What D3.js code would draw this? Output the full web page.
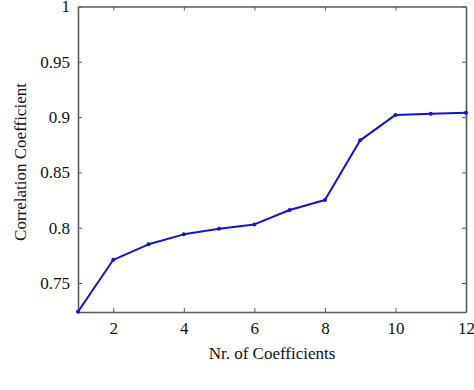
<!DOCTYPE html>
<html>
<head>
<meta charset="utf-8">
<script src="https://cdn.jsdelivr.net/npm/d3@7"></script>
</head>
<body style="margin:0;padding:0;background:#fff">
<div id="chart"></div>
<script>
// data
const coeffCounts = [1, 2, 3, 4, 5, 6, 7, 8, 9, 10, 11, 12];
const correlation = [0.724, 0.771, 0.785, 0.794, 0.799, 0.803, 0.816, 0.825, 0.879, 0.902, 0.903, 0.904];
const xTicks = [2, 4, 6, 8, 10, 12];
const yTicks = [0.75, 0.8, 0.85, 0.9, 0.95, 1];

const width = 474, height = 390;
const margin = {top: 6.5, right: 8, bottom: 78, left: 78};
const fontName = "Liberation Serif";

const svg = d3.select("#chart").append("svg")
    .attr("width", width)
    .attr("height", height)
    .style("display", "block");

const x = d3.scaleLinear()
    .domain([1, 12])
    .range([margin.left, width - margin.right]);

const y = d3.scaleLinear()
    .domain([0.7238, 1])
    .range([height - margin.bottom, margin.top]);

const frameColor = "#5a5a5a";

// bottom axis, ticks inside
svg.append("g")
    .attr("class", "axis")
    .attr("transform", `translate(0,${y.range()[0]})`)
    .call(d3.axisBottom(x).tickValues(xTicks).tickSize(-4).tickPadding(10).tickSizeOuter(0));

// top axis, ticks only
svg.append("g")
    .attr("class", "axis")
    .attr("transform", `translate(0,${y.range()[1]})`)
    .call(d3.axisTop(x).tickValues(xTicks).tickSize(-4).tickFormat("").tickSizeOuter(0));

// left axis
svg.append("g")
    .attr("class", "axis")
    .attr("transform", `translate(${x.range()[0]},0)`)
    .call(d3.axisLeft(y).tickValues(yTicks).tickSize(-4).tickPadding(8).tickSizeOuter(0)
        .tickFormat(d => String(+d.toFixed(2))));

// right axis, ticks only
svg.append("g")
    .attr("class", "axis")
    .attr("transform", `translate(${x.range()[1]},0)`)
    .call(d3.axisRight(y).tickValues(yTicks).tickSize(-4).tickFormat("").tickSizeOuter(0));

svg.selectAll(".axis").attr("font-family", fontName).attr("font-size", 17);
svg.selectAll(".domain").attr("stroke", frameColor).attr("stroke-width", 1.6);
svg.selectAll(".tick line").attr("stroke", frameColor).attr("stroke-width", 1);
svg.selectAll(".tick text")
    .attr("fill", "#111")
    .attr("font-family", fontName)
    .attr("font-size", 17);

// line
const line = d3.line()
    .x((d, i) => x(coeffCounts[i]))
    .y(d => y(d));

svg.append("path")
    .datum(correlation)
    .attr("fill", "none")
    .attr("stroke", "#1212e0")
    .attr("stroke-width", 2)
    .attr("stroke-linejoin", "round")
    .attr("d", line);

svg.append("g")
  .selectAll("circle")
  .data(correlation)
  .join("circle")
    .attr("cx", (d, i) => x(coeffCounts[i]))
    .attr("cy", d => y(d))
    .attr("r", 2)
    .attr("fill", "#1212e0");

// axis titles
svg.append("text")
    .attr("x", (x.range()[0] + x.range()[1]) / 2)
    .attr("y", 359)
    .attr("text-anchor", "middle")
    .attr("fill", "#111")
    .attr("font-family", fontName)
    .attr("font-size", 17)
    .text("Nr. of Coefficients");

svg.append("text")
    .attr("transform", "translate(26,162) rotate(-90)")
    .attr("text-anchor", "middle")
    .attr("fill", "#111")
    .attr("font-family", fontName)
    .attr("font-size", 17)
    .text("Correlation Coefficient");
</script>
</body>
</html>
